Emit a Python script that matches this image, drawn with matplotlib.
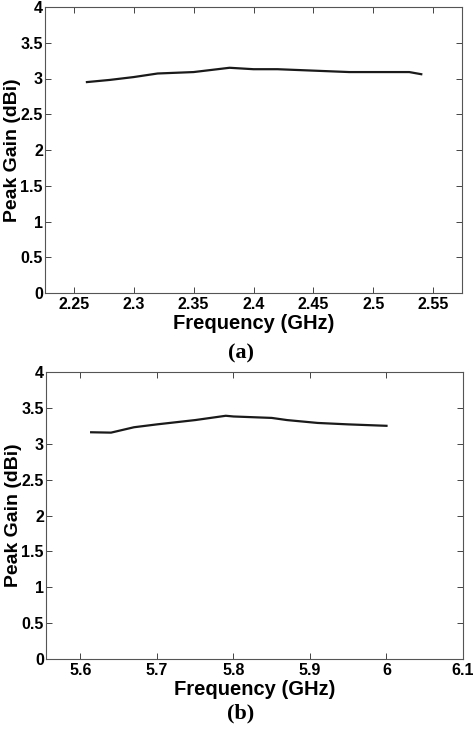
import matplotlib
matplotlib.use("Agg")
import matplotlib.pyplot as plt

# Panel (a)
freq_a = [2.261, 2.28, 2.30, 2.32, 2.35, 2.38, 2.40, 2.42, 2.45, 2.48, 2.50, 2.53, 2.54]
gain_a = [2.95, 2.98, 3.02, 3.07, 3.09, 3.15, 3.13, 3.13, 3.11, 3.09, 3.09, 3.09, 3.06]
xticks_a = [2.25, 2.3, 2.35, 2.4, 2.45, 2.5, 2.55]
xtlabels_a = ["2.25", "2.3", "2.35", "2.4", "2.45", "2.5", "2.55"]

# Panel (b)
freq_b = [5.614, 5.64, 5.67, 5.70, 5.75, 5.79, 5.80, 5.85, 5.87, 5.90, 5.91, 5.95, 6.00]
gain_b = [3.16, 3.155, 3.23, 3.27, 3.33, 3.39, 3.38, 3.36, 3.33, 3.30, 3.29, 3.27, 3.25]
xticks_b = [5.6, 5.7, 5.8, 5.9, 6.0, 6.1]
xtlabels_b = ["5.6", "5.7", "5.8", "5.9", "6", "6.1"]

yticks = [0, 0.5, 1, 1.5, 2, 2.5, 3, 3.5, 4]
ytlabels = ["0", "0.5", "1", "1.5", "2", "2.5", "3", "3.5", "4"]

W, H = 474, 735
fig = plt.figure(figsize=(W / 100, H / 100), dpi=100)

sans = ["Liberation Sans", "DejaVu Sans"]
serif = ["Liberation Serif", "DejaVu Serif"]

def make_panel(rect, x, y, xlim, xt, xtl, tag, tag_y):
    ax = fig.add_axes(rect)
    ax.plot(x, y, color="#1a1a1a", lw=1.6)
    ax.set_xlim(*xlim)
    ax.set_ylim(0, 4)
    ax.set_xticks(xt)
    ax.set_xticklabels(xtl, fontfamily=sans, fontweight="bold", fontsize=11.5)
    ax.set_yticks(yticks)
    ax.set_yticklabels(ytlabels, fontfamily=sans, fontweight="bold", fontsize=11.5)
    ax.tick_params(direction="in", length=4, width=0.7, top=True, right=True,
                   colors="#444444", labelcolor="black")
    ax.tick_params(axis="x", pad=3)
    ax.tick_params(axis="y", pad=1.5)
    for s in ax.spines.values():
        s.set_linewidth(0.8)
        s.set_color("#555555")
    ax.set_xlabel("Frequency (GHz)", fontfamily=sans, fontweight="bold", fontsize=14.5)
    ax.xaxis.set_label_coords(0.5, -0.072)
    ax.set_ylabel("Peak Gain (dBi)", fontfamily=sans, fontweight="bold", fontsize=14)
    ax.yaxis.set_label_coords(-0.058, 0.5)
    fig.text(241 / W, 1 - tag_y / H, tag, fontfamily=serif, fontweight="bold",
             fontsize=16, ha="center", va="center")
    return ax

make_panel([45 / W, 1 - 293 / H, 417 / W, 286 / H], freq_a, gain_a,
           (2.226, 2.574), xticks_a, xtlabels_a, "(a)", 353)
make_panel([46 / W, 1 - 659 / H, 417 / W, 287 / H], freq_b, gain_b,
           (5.555, 6.1), xticks_b, xtlabels_b, "(b)", 713)

fig.savefig("out.png", dpi=100)
